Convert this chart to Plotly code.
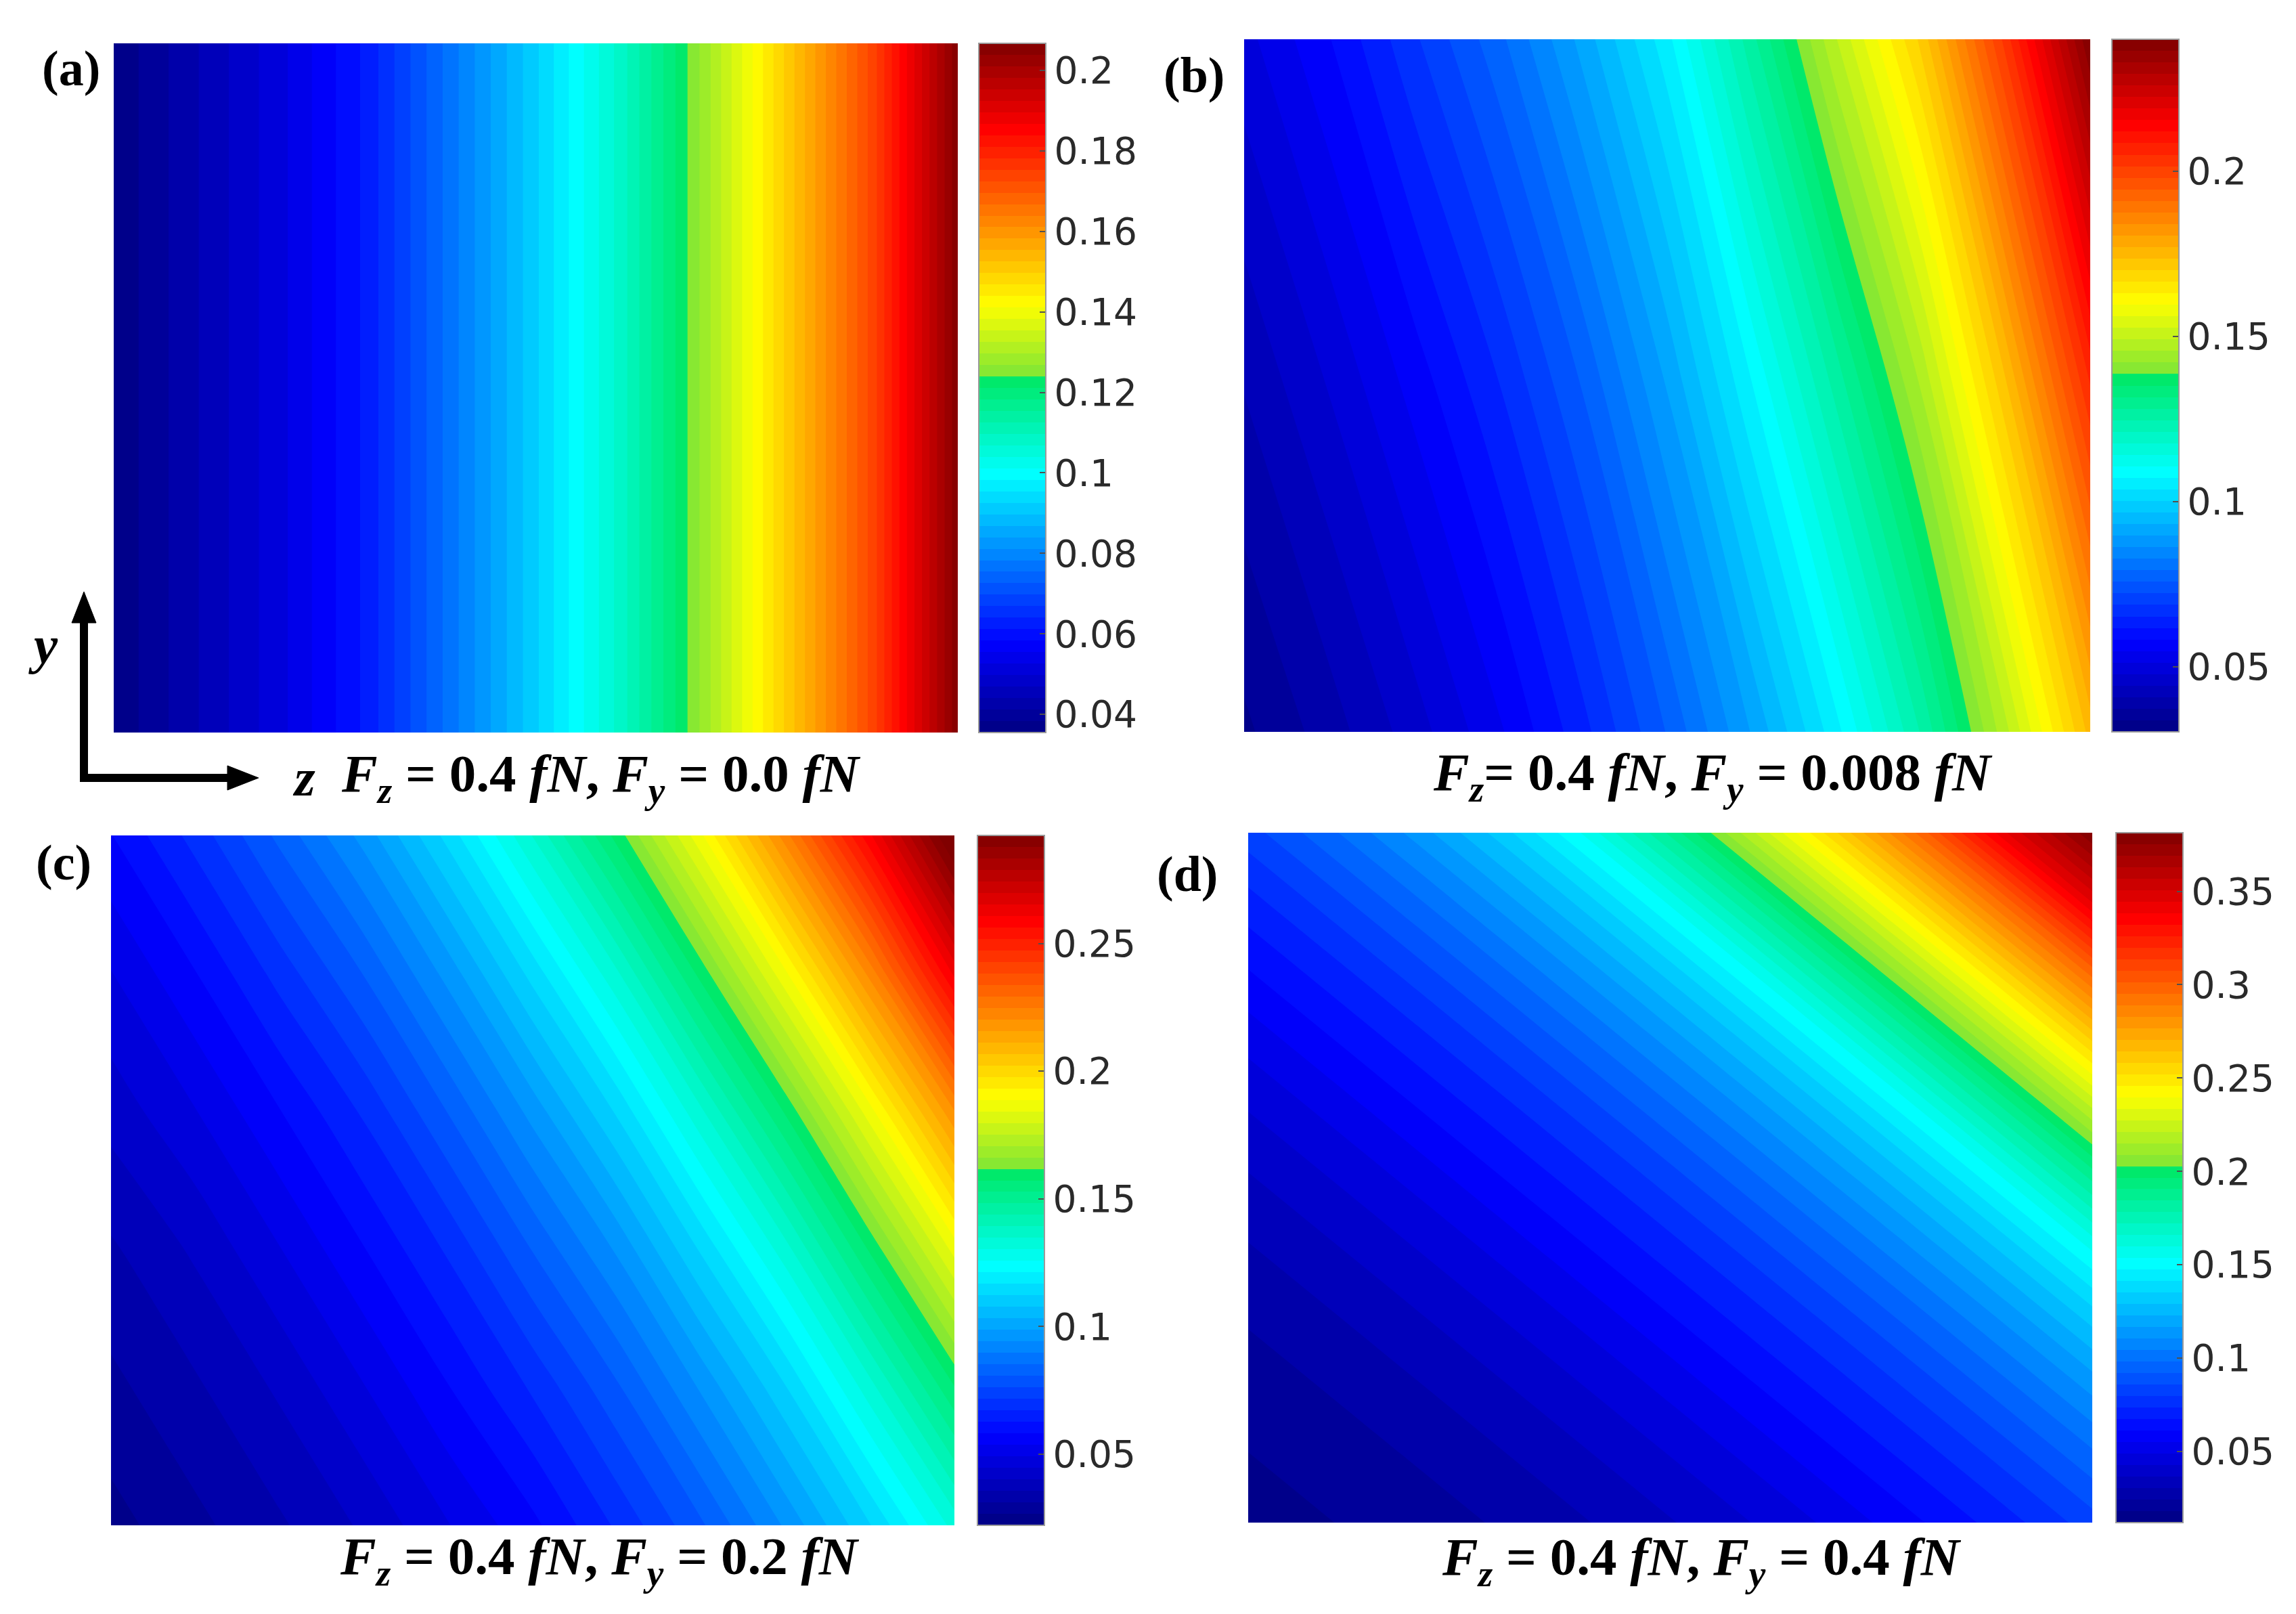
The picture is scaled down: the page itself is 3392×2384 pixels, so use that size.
import plotly.graph_objects as go

W, H = 3392, 2384

# z positions of the grid columns (normalised, shared by all panels)
Z_POS = [0.0, 0.1, 0.2, 0.3, 0.4, 0.5, 0.6, 0.7, 0.8, 0.9, 1.0]

# (a) Fy = 0 -> field only changes along z
A_Y = [0.0, 1.0]
A_PROFILE = [0.036, 0.044, 0.052, 0.062, 0.077, 0.092, 0.108, 0.128, 0.151, 0.174, 0.206]

# (b) Fy = 0.008 fN
B_Y = [0.0, 0.5, 1.0]
B_ROWS = [
    [0.033, 0.039, 0.046, 0.054, 0.064, 0.076, 0.090, 0.106, 0.125, 0.148, 0.175],
    [0.041, 0.048, 0.056, 0.065, 0.076, 0.090, 0.107, 0.126, 0.146, 0.173, 0.205],
    [0.050, 0.058, 0.068, 0.078, 0.091, 0.106, 0.127, 0.149, 0.171, 0.203, 0.240],
]

# (c) Fy = 0.2 fN
C_Y = [0.0, 0.2, 0.4, 0.6, 0.8, 1.0]
C_ROWS = [
    [0.025, 0.030, 0.035, 0.041, 0.049, 0.057, 0.068, 0.080, 0.095, 0.112, 0.132],
    [0.030, 0.035, 0.041, 0.049, 0.058, 0.068, 0.080, 0.095, 0.112, 0.133, 0.157],
    [0.035, 0.041, 0.049, 0.058, 0.068, 0.081, 0.095, 0.113, 0.133, 0.158, 0.186],
    [0.042, 0.049, 0.058, 0.068, 0.081, 0.096, 0.113, 0.134, 0.158, 0.187, 0.220],
    [0.049, 0.058, 0.069, 0.081, 0.096, 0.114, 0.134, 0.159, 0.188, 0.222, 0.262],
    [0.058, 0.069, 0.082, 0.096, 0.114, 0.135, 0.159, 0.188, 0.223, 0.260, 0.300],
]

# (d) Fy = 0.4 fN
D_Y = [0.0, 0.1, 0.2, 0.3, 0.4, 0.5, 0.6, 0.7, 0.8, 0.9, 1.0]
D_ROWS = [
    [0.015, 0.018, 0.021, 0.025, 0.030, 0.036, 0.043, 0.051, 0.061, 0.071, 0.083],
    [0.018, 0.021, 0.025, 0.030, 0.036, 0.043, 0.051, 0.061, 0.071, 0.083, 0.097],
    [0.021, 0.025, 0.030, 0.036, 0.043, 0.051, 0.061, 0.071, 0.083, 0.097, 0.113],
    [0.025, 0.030, 0.036, 0.043, 0.051, 0.061, 0.071, 0.083, 0.097, 0.113, 0.132],
    [0.030, 0.036, 0.043, 0.051, 0.061, 0.071, 0.083, 0.097, 0.113, 0.132, 0.155],
    [0.036, 0.043, 0.051, 0.061, 0.071, 0.083, 0.097, 0.113, 0.132, 0.155, 0.186],
    [0.043, 0.051, 0.061, 0.071, 0.083, 0.097, 0.113, 0.132, 0.155, 0.186, 0.221],
    [0.051, 0.061, 0.071, 0.083, 0.097, 0.113, 0.132, 0.155, 0.186, 0.221, 0.259],
    [0.061, 0.071, 0.083, 0.097, 0.113, 0.132, 0.155, 0.186, 0.221, 0.259, 0.299],
    [0.071, 0.083, 0.097, 0.113, 0.132, 0.155, 0.186, 0.221, 0.259, 0.299, 0.345],
    [0.083, 0.097, 0.113, 0.132, 0.155, 0.186, 0.221, 0.259, 0.299, 0.345, 0.381],
]

# colour limits of each colorbar
A_LIM = [0.0355, 0.2067]
B_LIM = [0.0303, 0.2400]
C_LIM = [0.0222, 0.2923]
D_LIM = [0.0119, 0.3814]

A_TICKS = [0.04, 0.06, 0.08, 0.1, 0.12, 0.14, 0.16, 0.18, 0.2]
B_TICKS = [0.05, 0.1, 0.15, 0.2]
C_TICKS = [0.05, 0.1, 0.15, 0.2, 0.25]
D_TICKS = [0.05, 0.1, 0.15, 0.2, 0.25, 0.3, 0.35]

CAPTIONS = [
    "<b><i>F</i><sub><i>z</i></sub> = 0.4 <i>fN</i>, <i>F</i><sub><i>y</i></sub> = 0.0 <i>fN</i></b>",
    "<b><i>F</i><sub><i>z</i></sub>= 0.4 <i>fN</i>, <i>F</i><sub><i>y</i></sub> = 0.008 <i>fN</i></b>",
    "<b><i>F</i><sub><i>z</i></sub> = 0.4 <i>fN</i>, <i>F</i><sub><i>y</i></sub> = 0.2 <i>fN</i></b>",
    "<b><i>F</i><sub><i>z</i></sub> = 0.4 <i>fN</i>, <i>F</i><sub><i>y</i></sub> = 0.4 <i>fN</i></b>",
]
LABELS = ["(a)", "(b)", "(c)", "(d)"]

# jet-like map with the step in the green part, as in the figure
JET_STEP = [
    [0.0, "rgb(0,0,130)"],
    [0.13, "rgb(0,0,255)"],
    [0.375, "rgb(0,255,255)"],
    [0.515, "rgb(0,232,100)"],
    [0.516, "rgb(125,230,55)"],
    [0.62, "rgb(255,255,0)"],
    [0.875, "rgb(255,0,0)"],
    [1.0, "rgb(128,0,0)"],
]

# pixel boxes: heatmap (x0, x1, y_top, y_bottom), colorbar left edge
PANELS = [
    dict(box=(160, 1407, 56, 1074), cb=1438, cap=(880, 1140), lab=(97, 93)),
    dict(box=(1830, 3080, 50, 1073), cb=3112, cap=(2522, 1139), lab=(1756, 103)),
    dict(box=(156, 1402, 1226, 2245), cb=1436, cap=(878, 2296), lab=(86, 1266)),
    dict(box=(1836, 3083, 1222, 2241), cb=3118, cap=(2506, 2297), lab=(1746, 1283)),
]


def px(x):
    return x / W


def py(y):
    return 1 - y / H


def tick_text(v):
    return ("%.2f" % v).rstrip("0")


fig = go.Figure()

fields = [
    (A_Y, [A_PROFILE, A_PROFILE], A_LIM, A_TICKS),
    (B_Y, B_ROWS, B_LIM, B_TICKS),
    (C_Y, C_ROWS, C_LIM, C_TICKS),
    (D_Y, D_ROWS, D_LIM, D_TICKS),
]

for i, (yy, zz, lim, ticks) in enumerate(fields):
    p = PANELS[i]
    x0, x1, yt, yb = p["box"]
    ax = "" if i == 0 else str(i + 1)
    step = (lim[1] - lim[0]) / 60
    fig.add_trace(go.Contour(
        x=Z_POS, y=yy, z=zz,
        xaxis="x" + ax, yaxis="y" + ax,
        colorscale=JET_STEP, zmin=lim[0], zmax=lim[1], zauto=False,
        contours=dict(start=lim[0], end=lim[1], size=step, coloring="fill", showlines=False),
        line=dict(width=0),
        hoverinfo="skip",
        colorbar=dict(
            x=px(p["cb"]), xanchor="left", xpad=0,
            y=py(yt), yanchor="top", ypad=0,
            len=(yb - yt) / H, lenmode="fraction",
            thickness=99, thicknessmode="pixels",
            outlinewidth=2, outlinecolor="#9a9a9a",
            ticks="inside", ticklen=10, tickwidth=2, tickcolor="#505050",
            tickvals=ticks, ticktext=[tick_text(t) for t in ticks],
            tickfont=dict(family="DejaVu Sans", size=55, color="#2a2a2a"),
        ),
    ))
    fig.update_layout({
        "xaxis" + ax: dict(domain=[px(x0), px(x1)], range=[0, 1], visible=False, anchor="y" + ax),
        "yaxis" + ax: dict(domain=[py(yb), py(yt)], range=[0, 1], visible=False, anchor="x" + ax),
    })
    fig.add_annotation(x=px(p["cap"][0]), y=py(p["cap"][1]), xref="paper", yref="paper",
                       text=CAPTIONS[i], showarrow=False, xanchor="center", yanchor="middle",
                       font=dict(family="Liberation Serif", size=79, color="black"))
    fig.add_annotation(x=px(p["lab"][0]), y=py(p["lab"][1]), xref="paper", yref="paper",
                       text="<b>" + LABELS[i] + "</b>", showarrow=False,
                       xanchor="center", yanchor="middle",
                       font=dict(family="Liberation Serif", size=74, color="black"))

# y / z axis arrows drawn next to panel (a)
shapes = [
    dict(type="line", xref="paper", yref="paper", x0=px(116), y0=py(1141), x1=px(116), y1=py(905),
         line=dict(color="black", width=12)),
    dict(type="line", xref="paper", yref="paper", x0=px(110), y0=py(1141), x1=px(335), y1=py(1141),
         line=dict(color="black", width=12)),
    dict(type="path", xref="paper", yref="paper",
         path="M %f,%f L %f,%f L %f,%f Z" % (px(116), py(866), px(98), py(912), px(134), py(912)),
         fillcolor="black", line=dict(color="black", width=1)),
    dict(type="path", xref="paper", yref="paper",
         path="M %f,%f L %f,%f L %f,%f Z" % (px(374), py(1141), px(328), py(1123), px(328), py(1159)),
         fillcolor="black", line=dict(color="black", width=1)),
]
fig.add_annotation(x=px(56), y=py(945), xref="paper", yref="paper", text="<b><i>y</i></b>",
                   showarrow=False, xanchor="center", yanchor="middle",
                   font=dict(family="Liberation Serif", size=79, color="black"))
fig.add_annotation(x=px(441), y=py(1140), xref="paper", yref="paper", text="<b><i>z</i></b>",
                   showarrow=False, xanchor="center", yanchor="middle",
                   font=dict(family="Liberation Serif", size=79, color="black"))

fig.update_layout(
    width=W, height=H,
    margin=dict(l=0, r=0, t=0, b=0),
    paper_bgcolor="white", plot_bgcolor="white",
    shapes=shapes,
    showlegend=False,
)

fig.write_html("out.html")
